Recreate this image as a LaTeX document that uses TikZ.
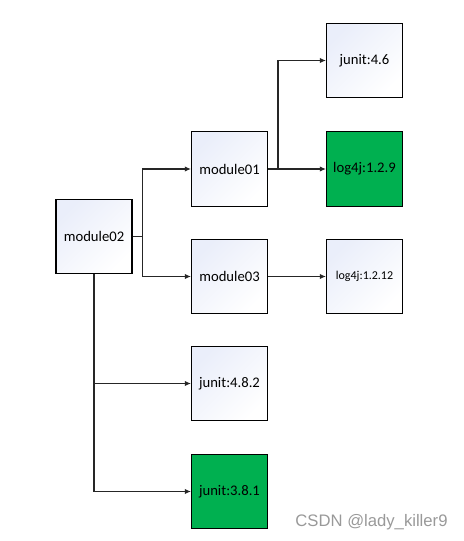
\documentclass[tikz,border=0pt]{standalone}
\usepackage{fontspec}
\setmainfont{Carlito}
\newfontfamily\wmfont{Liberation Sans}
\usetikzlibrary{arrows.meta}
\definecolor{boxgreen}{RGB}{0,176,80}
\definecolor{boxtint}{RGB}{234,238,250}
\tikzset{
  dep/.style={draw=black, line width=0.8pt, minimum width=57pt, minimum height=56pt,
    inner sep=0pt, top color=boxtint, middle color=white, bottom color=white, shading angle=45,
    font=\fontsize{11}{13}\selectfont},
  used/.style={dep, top color=boxgreen, middle color=boxgreen, bottom color=boxgreen},
  arr/.style={-{Latex[length=4.5pt,width=4pt]}, line width=0.9pt, draw=black!85}
}
\begin{document}
\begin{tikzpicture}[x=0.75pt,y=-0.75pt]
\useasboundingbox (0,0) rectangle (463,541);
\node[dep] (m02) at (94,236.5) {module02};
\node[dep] (m01) at (229.5,169) {module01};
\node[dep] (m03) at (229.5,276.5) {module03};
\node[dep] (j46) at (364.5,60.5) {junit:4.6};
\node[used] (l129) at (364.5,169) {log4j:1.2.9};
\node[dep, font=\fontsize{9}{11}\selectfont] (l1212) at (364.5,276.5) {log4j:1.2.12};
\node[dep] (j482) at (229.5,383.5) {junit:4.8.2};
\node[used] (j381) at (229.5,491.5) {junit:3.8.1};
% module02 -> module01, module03
\draw[arr] (m02.east) -- ++(10,0) |- (m01.west);
\draw[arr] (m02.east) -- ++(10,0) |- (m03.west);
% module01 -> junit, log4j
\draw[arr] (m01.east) -- ++(10,0) |- (j46.west);
\draw[arr] (m01.east) -- (l129.west);
\draw[arr] (m03.east) -- (l1212.west);
% direct deps of module02
\draw[arr] (m02.south) |- (j482.west);
\draw[arr] (m02.south) |- (j381.west);
\node[text=black!40, font=\wmfont\fontsize{12.5}{14}\selectfont] (wm) at (371.5,522) {CSDN @lady\_killer9};
\end{tikzpicture}
\end{document}
